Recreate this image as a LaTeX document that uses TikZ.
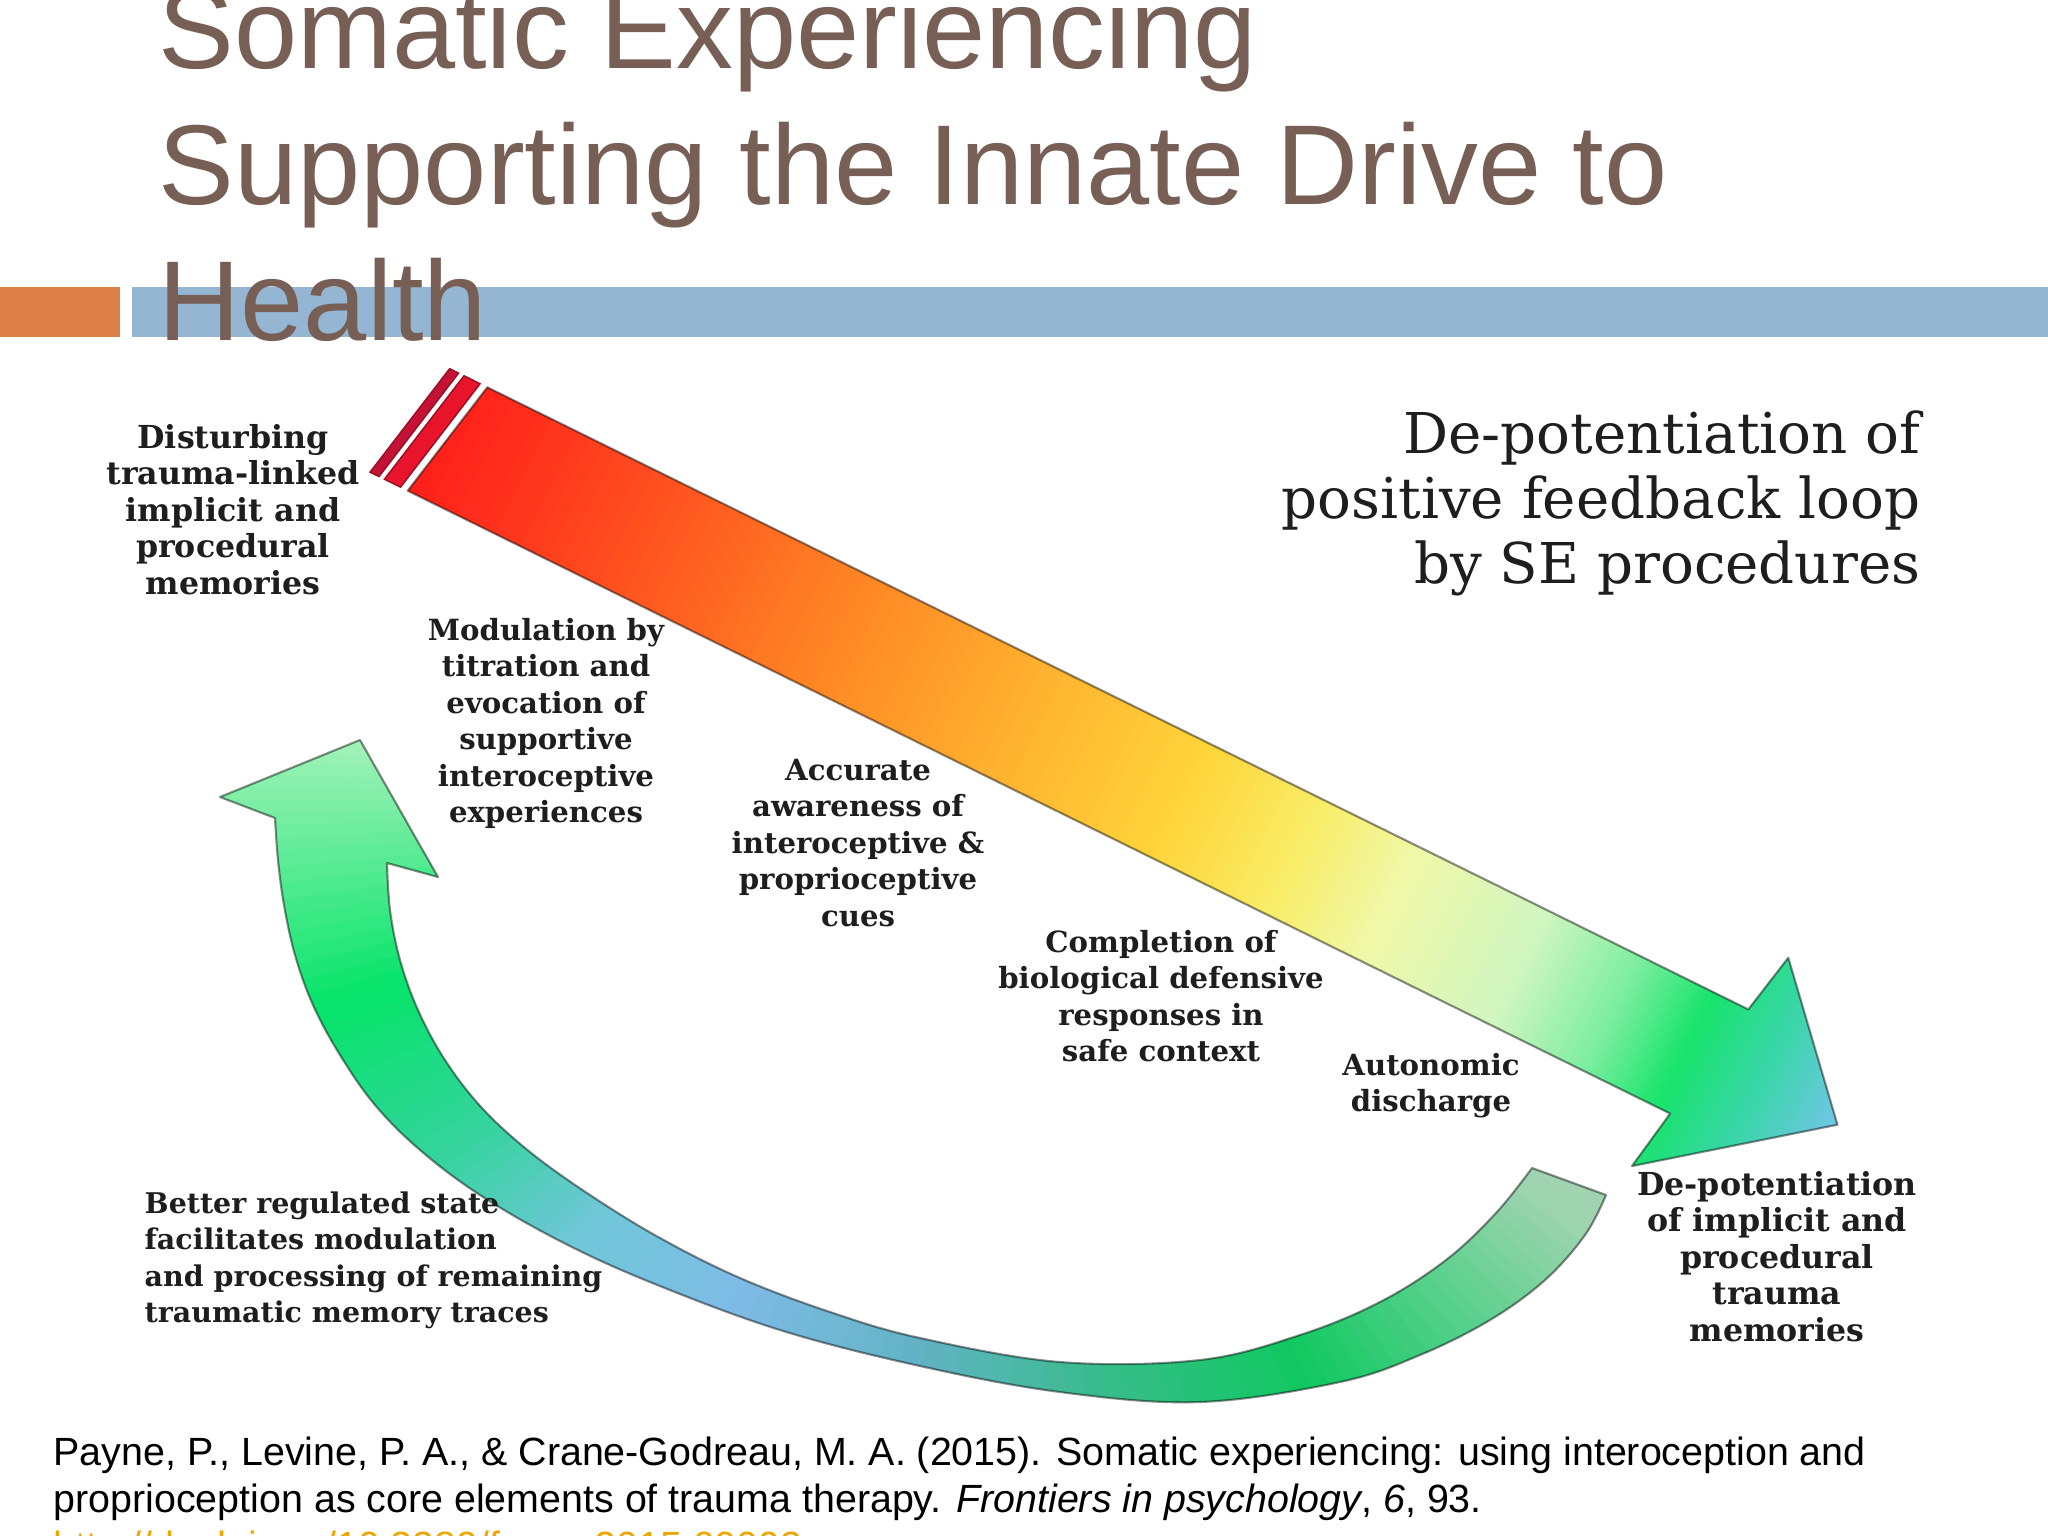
\documentclass[tikz,border=0pt]{standalone}
\usepackage{fontspec}
\setmainfont{Liberation Sans}
\newfontfamily\dserif{DejaVu Serif}
\definecolor{titlecol}{HTML}{775F55}
\definecolor{barblue}{HTML}{94B6D2}
\definecolor{barorange}{HTML}{DD8047}
\definecolor{linkgold}{HTML}{EBA800}
\definecolor{labcol}{HTML}{1E1E1E}
% straight arrow colour stops
\definecolor{ga0}{HTML}{FF1A1A}
\definecolor{ga1}{HTML}{FF4D1F}
\definecolor{ga2}{HTML}{FF8424}
\definecolor{ga3}{HTML}{FFAE2E}
\definecolor{ga4}{HTML}{FFD43A}
\definecolor{ga5}{HTML}{F8EE6A}
\definecolor{ga6}{HTML}{F0F8A8}
\definecolor{ga7}{HTML}{D0F6C0}
\definecolor{ga8}{HTML}{7CEEA0}
\definecolor{ga9}{HTML}{18E46C}
\definecolor{ga10}{HTML}{38D6A6}
\definecolor{ga11}{HTML}{78C4EE}
% curved arrow colour stops
\definecolor{gb0}{HTML}{A8CEB0}
\definecolor{gb1}{HTML}{A0D4B0}
\definecolor{gb2}{HTML}{58D08C}
\definecolor{gb3}{HTML}{10C860}
\definecolor{gb4}{HTML}{38BC8C}
\definecolor{gb5}{HTML}{62B2C4}
\definecolor{gb6}{HTML}{7EBCE6}
\definecolor{gb7}{HTML}{70C6D8}
\definecolor{gb8}{HTML}{34D49C}
\definecolor{gb9}{HTML}{06E46A}
\definecolor{gb10}{HTML}{64EC9A}
\definecolor{gb11}{HTML}{A8F2BC}
\definecolor{gb12}{HTML}{C0F6CC}
\definecolor{stripeA}{HTML}{E8142C}
\definecolor{stripeB}{HTML}{C41236}
\definecolor{stripeline}{HTML}{9A0E22}

\newcommand\stripseg[4]{%
  \foreach \kk in {0,...,15}{%
    \pgfmathsetmacro\uA{#1+(#2-#1)*\kk/16}%
    \pgfmathsetmacro\uB{#1+(#2-#1)*(\kk+1)/16+1.5}%
    \pgfmathtruncatemacro\pcA{6.25*\kk+3}%
    \fill[#4!\pcA!#3] (\uA,-160) -- (\uB,-160) -- (\uB,160) -- (\uA,160) -- cycle;%
  }%
}
\newcommand\sectseg[4]{%
  \foreach \kk in {0,...,9}{%
    \pgfmathsetmacro\angA{#1+(#2-#1)*\kk/10}%
    \pgfmathsetmacro\angB{#1+(#2-#1)*(\kk+1)/10+0.3}%
    \pgfmathtruncatemacro\pcA{10*\kk+5}%
    \fill[#4!\pcA!#3] (0,0) -- (\angA:1400) -- (\angB:1400) -- cycle;%
  }%
}

\def\straightpath{(12.8,-64) -- (1419,-64) -- (1432,-128) -- (1550,0) -- (1384,128) -- (1395,64) -- (-12.8,64) -- cycle}
\def\curvepath{plot[smooth,tension=0.6] coordinates {(1606,1195) (1585,1235) (1545,1280) (1490,1320) (1420,1355) (1340,1382) (1200,1402) (1060,1392) (920,1366) (780,1330) (650,1282) (560,1241) (480,1195) (420,1150) (375,1105) (340,1055) (313,1005) (295,955) (284,905) (278,860) (275,818)} -- (220,797) -- (360,740) -- (438,877) -- (387,863) -- plot[smooth,tension=0.6] coordinates {(387,863) (390,910) (400,960) (418,1010) (445,1060) (482,1108) (530,1152) (590,1195) (660,1238) (740,1278) (830,1312) (920,1338) (1060,1362) (1200,1360) (1300,1335) (1380,1302) (1446,1260) (1496,1213) (1532,1168)} -- cycle}

\begin{document}
\begin{tikzpicture}[x=0.01cm,y=-0.01cm,
  arrowline/.style={draw=black, draw opacity=0.45, line width=0.6pt, line join=round},
  titletext/.style={inner sep=0pt, anchor=base west, text=titlecol, font=\fontsize{32.3}{38.7}\selectfont},
  citetext/.style={inner sep=0pt, anchor=base west, text=black, font=\fontsize{11.2}{13.4}\selectfont},
  lab/.style={inner sep=0pt, anchor=base, text=labcol, font=\dserif\bfseries\fontsize{8.3}{10.4}\selectfont},
  blab/.style={lab, font=\dserif\bfseries\fontsize{9}{10.4}\selectfont}]
\useasboundingbox (0,0) rectangle (2048,1536);
\fill[white] (0,0) rectangle (2048,1536);

% header bars
\fill[barorange] (0,287) rectangle (120,337);
\fill[barblue] (132,287) rectangle (2048,337);

% title
\node[titletext] (t1) at (158,68) {Somatic Experiencing};
\node[titletext] (t2) at (158,204) {Supporting the Innate Drive to};
\node[titletext] (t3) at (158,340) {Health};

% curved return arrow
\begin{scope}
  \clip \curvepath;
  \begin{scope}[shift={(1000,800)}]
    \sectseg{10}{36}{gb0}{gb1}
    \sectseg{36}{48}{gb1}{gb2}
    \sectseg{48}{62}{gb2}{gb3}
    \sectseg{62}{80}{gb3}{gb4}
    \sectseg{80}{98}{gb4}{gb5}
    \sectseg{98}{118}{gb5}{gb6}
    \sectseg{118}{134}{gb6}{gb7}
    \sectseg{134}{148}{gb7}{gb8}
    \sectseg{148}{163}{gb8}{gb9}
    \sectseg{163}{176}{gb9}{gb10}
    \sectseg{176}{186}{gb10}{gb11}
    \sectseg{186}{210}{gb11}{gb12}
  \end{scope}
\end{scope}
\path[arrowline] \curvepath;

% straight arrow
\begin{scope}[shift={(447.5,439)}, rotate=-26.26]
  \begin{scope}
    \clip \straightpath;
    \stripseg{-30}{200}{ga0}{ga1}
    \stripseg{200}{425}{ga1}{ga2}
    \stripseg{425}{620}{ga2}{ga3}
    \stripseg{620}{816}{ga3}{ga4}
    \stripseg{816}{950}{ga4}{ga5}
    \stripseg{950}{1050}{ga5}{ga6}
    \stripseg{1050}{1196}{ga6}{ga7}
    \stripseg{1196}{1300}{ga7}{ga8}
    \stripseg{1300}{1380}{ga8}{ga9}
    \stripseg{1380}{1460}{ga9}{ga10}
    \stripseg{1460}{1560}{ga10}{ga11}
  \end{scope}
  \path[arrowline] \straightpath;
  \filldraw[fill=stripeA, draw=stripeline, line width=0.4pt] (4.8,-64) -- (-13.2,-64) -- (-38.8,64) -- (-20.8,64) -- cycle;
  \filldraw[fill=stripeB, draw=stripeline, line width=0.4pt] (-19.2,-64) -- (-29.2,-64) -- (-54.8,64) -- (-44.8,64) -- cycle;
\end{scope}

% labels
\node[blab] (dist) at (233,448) {\begin{tabular}[t]{@{}c@{}}Disturbing\\trauma-linked\\implicit and\\procedural\\memories\end{tabular}};
\node[lab] (modul) at (546,640) {\begin{tabular}[t]{@{}c@{}}Modulation by\\titration and\\evocation of\\supportive\\interoceptive\\experiences\end{tabular}};
\node[lab] (accur) at (858,780) {\begin{tabular}[t]{@{}c@{}}Accurate\\awareness of\\interoceptive \&\\proprioceptive\\cues\end{tabular}};
\node[lab] (compl) at (1161,952) {\begin{tabular}[t]{@{}c@{}}Completion of\\biological defensive\\responses in\\safe context\end{tabular}};
\node[lab] (auton) at (1431,1075) {\begin{tabular}[t]{@{}c@{}}Autonomic\\discharge\end{tabular}};
\node[lab, anchor=base west, font=\dserif\bfseries\fontsize{8.1}{10.4}\selectfont] (better) at (144,1213) {\begin{tabular}[t]{@{}l@{}}Better regulated state\\facilitates modulation\\and processing of remaining\\traumatic memory traces\end{tabular}};
\node[blab] (depot) at (1777,1195) {\begin{tabular}[t]{@{}c@{}}De-potentiation\\of implicit and\\procedural\\trauma\\memories\end{tabular}};
\node[lab, anchor=base east, font=\dserif\fontsize{16}{18.5}\selectfont] (loop) at (1921,453) {\begin{tabular}[t]{@{}r@{}}De-potentiation of\\positive feedback loop\\by SE procedures\end{tabular}};

% citation
\node[citetext] (c1) at (53,1465) {Payne, P., Levine, P. A., \& Crane-Godreau, M. A. (2015). Somatic experiencing: using interoception and};
\node[citetext] (c2) at (53,1512) {proprioception as core elements of trauma therapy. \textit{Frontiers in psychology}, \textit{6}, 93.};
\node[citetext, text=linkgold] (c3) at (53,1559) {http://dx.doi.org/10.3389/fpsyg.2015.00093};
\end{tikzpicture}
\end{document}
